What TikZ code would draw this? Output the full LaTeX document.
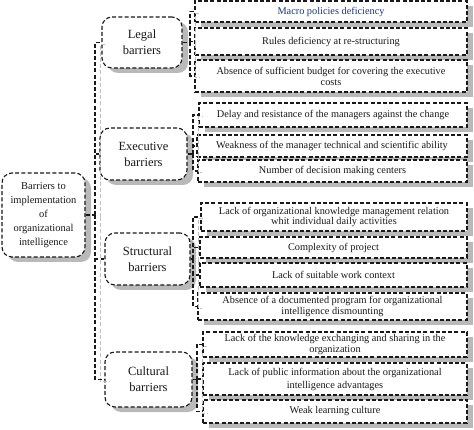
\documentclass[tikz,border=0pt]{standalone}
\usepackage{fontspec}
\setmainfont{Liberation Serif}
\usetikzlibrary{shadows}
\definecolor{macroblue}{RGB}{31,56,110}
\definecolor{shadowgray}{RGB}{185,185,185}
\tikzset{
  box/.style={draw=black!90, line width=1.1pt, dash pattern=on 4pt off 2.2pt, fill=white,
    inner sep=1pt, align=center, text=black!90,
    drop shadow={shadow xshift=6pt, shadow yshift=-5pt, fill=shadowgray, opacity=1}},
  leaf/.style={box, rectangle, font=\fontsize{10.3}{11}\selectfont},
  catbox/.style={box, rounded corners=10pt, font=\fontsize{12.5}{16}\selectfont},
  rootbox/.style={box, rounded corners=10pt, font=\fontsize{10.5}{14}\selectfont},
  conn/.style={draw=black!90, line width=1.1pt, dash pattern=on 4pt off 2.2pt},
  connshadow/.style={draw=shadowgray!90, line width=1pt, dash pattern=on 4pt off 2.2pt},
}
\begin{document}
\begin{tikzpicture}[x=1pt,y=-1pt]
\useasboundingbox (0,0) rectangle (474,430);

% root and categories
\node[rootbox, minimum width=83pt, minimum height=84pt] (root) at (43.5,215)
  {Barriers to\\implementation\\of\\organizational\\intelligence};
\node[catbox, minimum width=80pt, minimum height=51pt] (legal) at (142,42.5) {Legal\\barriers};
\node[catbox, minimum width=87pt, minimum height=52pt] (exec) at (143.5,154) {Executive\\barriers};
\node[catbox, minimum width=85pt, minimum height=52pt] (struct) at (147.5,259) {Structural\\barriers};
\node[catbox, minimum width=87pt, minimum height=55pt] (cult) at (148.5,379.5) {Cultural\\barriers};

% leaves
\node[leaf, minimum width=272pt, minimum height=21pt, text=macroblue] (l1) at (331,11.5) {Macro policies deficiency};
\node[leaf, minimum width=272pt, minimum height=27pt] (l2) at (331,41.5) {Rules deficiency at re-structuring};
\node[leaf, minimum width=272pt, minimum height=32pt] (l3) at (331,76) {Absence of sufficient budget for covering the executive\\costs};
\node[leaf, minimum width=268pt, minimum height=24pt] (l4) at (333,115) {Delay and resistance of the managers against the change};
\node[leaf, minimum width=270pt, minimum height=22pt] (l5) at (332,146) {Weakness of the manager technical and scientific ability};
\node[leaf, minimum width=269pt, minimum height=22pt] (l6) at (332.5,171) {Number of decision making centers};
\node[leaf, minimum width=266pt, minimum height=28pt, font=\fontsize{10.3}{9.5}\selectfont] (l7) at (334,217) {Lack of organizational knowledge management relation\\whit individual daily activities};
\node[leaf, minimum width=267pt, minimum height=21pt] (l8) at (333.5,247.5) {Complexity of project};
\node[leaf, minimum width=267pt, minimum height=24pt] (l9) at (333.5,275) {Lack of suitable work context};
\node[leaf, minimum width=269pt, minimum height=27pt, font=\fontsize{10.3}{9}\selectfont] (l10) at (332.5,306.5) {Absence of a documented program for organizational\\intelligence dismounting};
\node[leaf, minimum width=264pt, minimum height=25pt, font=\fontsize{10.3}{8.5}\selectfont] (l11) at (335,344.5) {Lack of the knowledge exchanging and sharing in the\\organization};
\node[leaf, minimum width=264pt, minimum height=32pt, font=\fontsize{10.3}{13}\selectfont] (l12) at (335,379) {Lack of public information about the organizational\\intelligence advantages};
\node[leaf, minimum width=264pt, minimum height=23pt] (l13) at (335,411.5) {Weak learning culture};

% bracket coordinates
\coordinate (rb) at (95,215);
\coordinate (lb) at (190,42.5);
\coordinate (eb) at (193,154);
\coordinate (sb) at (193,259);
\coordinate (cb) at (197,379.5);

% connector shadows
\begin{scope}[transform canvas={shift={(5pt,-2pt)}}]
\draw[connshadow] (rb) |- (legal.west);
\draw[connshadow] (rb) |- (cult.west);
\draw[connshadow] (lb) |- (l1.west); \draw[connshadow] (lb) |- (l3.west);
\draw[connshadow] (eb) |- (l4.west); \draw[connshadow] (eb) |- (l6.west);
\draw[connshadow] (sb) |- (l7.west); \draw[connshadow] (sb) |- (l10.west);
\draw[connshadow] (cb) |- (l11.west); \draw[connshadow] (cb) |- (l13.west);
\end{scope}

% connectors root -> categories
\draw[conn] (root.east) -- (rb);
\draw[conn] (rb) |- (legal.west);
\draw[conn] (rb) |- (exec.west);
\draw[conn] (rb) |- (struct.west);
\draw[conn] (rb) |- (cult.west);

% legal
\draw[conn] (legal.east) -- (lb);
\draw[conn] (lb) |- (l1.west);
\draw[conn] (lb) |- (l2.west);
\draw[conn] (lb) |- (l3.west);
% executive
\draw[conn] (exec.east) -- (eb);
\draw[conn] (eb) |- (l4.west);
\draw[conn] (eb) |- (l5.west);
\draw[conn] (eb) |- (l6.west);
% structural
\draw[conn] (struct.east) -- (sb);
\draw[conn] (sb) |- (l7.west);
\draw[conn] (sb) |- (l8.west);
\draw[conn] (sb) |- (l9.west);
\draw[conn] (sb) |- (l10.west);
% cultural
\draw[conn] (cult.east) -- (cb);
\draw[conn] (cb) |- (l11.west);
\draw[conn] (cb) |- (l12.west);
\draw[conn] (cb) |- (l13.west);
\end{tikzpicture}
\end{document}
